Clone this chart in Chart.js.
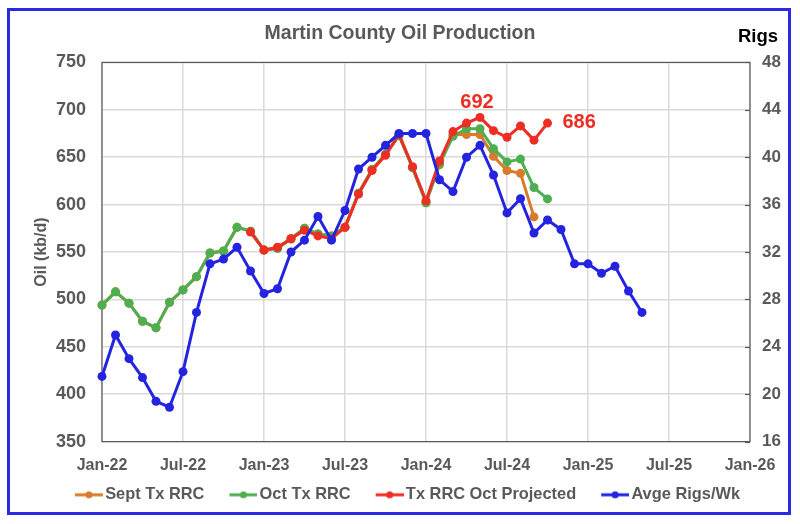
<!DOCTYPE html>
<html><head><meta charset="utf-8">
<script src="https://cdn.jsdelivr.net/npm/chart.js@4/dist/chart.umd.min.js"></script>
<style>
html,body{margin:0;padding:0;background:#fff;}
#wrap{position:relative;width:800px;height:524px;overflow:hidden;}
#frame{position:absolute;left:7px;top:8px;width:778px;height:501px;border:3px solid #2a2ae6;pointer-events:none;}
canvas{position:absolute;left:0;top:0;}
</style></head><body>
<div id="wrap"><canvas id="c" width="800" height="524"></canvas><div id="frame"></div></div>
<script>
// ---- data ----
const months = ['Jan-22','Feb-22','Mar-22','Apr-22','May-22','Jun-22','Jul-22','Aug-22','Sep-22','Oct-22','Nov-22','Dec-22',
  'Jan-23','Feb-23','Mar-23','Apr-23','May-23','Jun-23','Jul-23','Aug-23','Sep-23','Oct-23','Nov-23','Dec-23',
  'Jan-24','Feb-24','Mar-24','Apr-24','May-24','Jun-24','Jul-24','Aug-24','Sep-24','Oct-24','Nov-24','Dec-24',
  'Jan-25','Feb-25','Mar-25','Apr-25','May-25'];
const xTickLabels = ['Jan-22','Jul-22','Jan-23','Jul-23','Jan-24','Jul-24','Jan-25','Jul-25','Jan-26'];
const seriesNames = ['Sept Tx RRC','Oct Tx RRC','Tx RRC Oct Projected','Avge Rigs/Wk'];
const septTxRRC = [494,508,496,477,470,497,510,524,549,551,576,572,
  552,554,564,575,569,567,576,612,637,653,673,639,
  602,642,674,674,674,651,636,633,587];
const octTxRRC = [494,508,496,477,470,497,510,524,549,551,576,572,
  552,554,564,575,569,567,576,612,637,653,673,639,
  602,643,672,680,680,659,645,648,618,606];
const octProjected = [null,null,null,null,null,null,null,null,null,null,null,571,
  552,555,564,573,567,564,576,611,636,652,674,640,
  604,646,677,686,692,678,671,683,668,686];
const avgRigs = [21.5,25.0,23.0,21.4,19.4,18.9,21.9,26.9,31.0,31.4,32.4,30.4,
  28.5,28.9,32.0,33.0,35.0,33.0,35.5,39.0,40.0,41.0,42.0,42.0,
  42.0,38.1,37.1,40.0,41.0,38.5,35.3,36.5,33.6,34.7,33.9,31.0,
  31.0,30.2,30.8,28.7,26.9];
const valueNotes = [{series:2, month:'May-24'},{series:2, month:'Oct-24'}];

// ---- styling ----
const FONT = "'Liberation Sans', Arial, Helvetica, sans-serif";
const GRAY = '#595959';
const COLORS = ['#DA7A2C','#4EAE50','#EE2E24','#2424E0'];

function toXY(arr){ return arr.map((v,i)=>({x:i, y:v})); }

// legend marker: transparent lead-in, then a short line with a dot
const BOXW = 37, IMGW = BOXW + 12, LEAD = 21;
function legendImage(color){
  const c = document.createElement('canvas');
  c.width = IMGW; c.height = 10;
  const g = c.getContext('2d');
  g.strokeStyle = color; g.lineWidth = 3;
  g.beginPath(); g.moveTo(LEAD,5); g.lineTo(IMGW,5); g.stroke();
  g.fillStyle = color; g.beginPath(); g.arc((LEAD+IMGW)/2,5,3.5,0,Math.PI*2); g.fill();
  return c;
}
const legendImgs = COLORS.map(legendImage);

function ds(i, data, axis, order){
  return {label: seriesNames[i], data: toXY(data), yAxisID: axis, order: order,
    borderColor: COLORS[i], backgroundColor: COLORS[i], borderWidth: 3,
    pointRadius: 4.5, pointBackgroundColor: COLORS[i], pointBorderWidth: 0,
    tension: 0, spanGaps: false, clip: false};
}

const decor = {
  id:'decor',
  beforeDatasetsDraw(chart){
    const {ctx, chartArea:a} = chart;
    ctx.save();
    ctx.strokeStyle = GRAY; ctx.lineWidth = 1.2;
    ctx.strokeRect(a.left, a.top, a.right-a.left, a.bottom-a.top);
    const y1 = chart.scales.y1;
    y1.ticks.forEach(t=>{
      const py = Math.round(y1.getPixelForValue(t.value))+0.5;
      ctx.beginPath(); ctx.moveTo(a.right-5, py); ctx.lineTo(a.right, py); ctx.stroke();
    });
    ctx.restore();
  },
  afterDatasetsDraw(chart){
    const {ctx, chartArea:a} = chart;
    ctx.save();
    ctx.fillStyle = '#000';
    ctx.font = "bold 18.5px " + FONT;
    ctx.textAlign = 'right'; ctx.textBaseline = 'middle';
    ctx.fillText('Rigs', a.right + 28, a.top - 25);
    ctx.fillStyle = COLORS[2];
    ctx.font = "bold 20px " + FONT;
    valueNotes.forEach((n, k)=>{
      const idx = months.indexOf(n.month);
      const el = chart.getDatasetMeta(n.series).data[idx];
      const val = chart.data.datasets[n.series].data[idx].y;
      if (k === 0){ ctx.textAlign='center'; ctx.fillText(String(Math.round(val)), el.x-3, el.y-15); }
      else { ctx.textAlign='left'; ctx.fillText(String(Math.round(val)), el.x+15, el.y-1); }
    });
    ctx.restore();
  }
};

new Chart(document.getElementById('c'), {
  type:'line',
  data:{ datasets:[
    ds(0, septTxRRC, 'y', 4),
    ds(1, octTxRRC, 'y', 3),
    ds(2, octProjected, 'y', 2),
    ds(3, avgRigs, 'y1', 1)
  ]},
  plugins:[decor],
  options:{
    responsive:false, animation:false,
    layout:{padding:{left:0,right:0,top:0,bottom:11}},
    plugins:{
      tooltip:{enabled:false},
      title:{display:true, text:'Martin County Oil Production', color:GRAY,
        font:{family:FONT, size:19.5, weight:'bold'}, padding:{top:22, bottom:17}},
      legend:{position:'bottom', labels:{
        color:GRAY, font:{family:FONT, size:16.4, weight:'bold'},
        usePointStyle:true, pointStyleWidth:BOXW, boxHeight:10, padding:10,
        sort:(a,b)=>a.datasetIndex-b.datasetIndex,
        generateLabels:(chart)=>{
          const items = Chart.defaults.plugins.legend.labels.generateLabels(chart);
          items.forEach(it=>{ it.pointStyle = legendImgs[it.datasetIndex]; it.rotation = 0; });
          return items;
        }
      }}
    },
    scales:{
      x:{type:'linear', min:0, max:48,
        ticks:{stepSize:6, autoSkip:false, maxRotation:0, color:GRAY, padding:14,
          font:{family:FONT, size:16, weight:'bold'},
          callback:(v)=> xTickLabels[Math.round(v/6)] },
        grid:{color:'#d9d9d9', lineWidth:1.5, drawTicks:false},
        border:{display:false},
        afterFit:(s)=>{ s.height = 35; }
      },
      y:{position:'left', min:350, max:750,
        ticks:{stepSize:50, color:GRAY, padding:16, font:{family:FONT, size:18, weight:'bold'}},
        grid:{color:'#d9d9d9', lineWidth:1.5, drawTicks:false},
        border:{display:false},
        title:{display:true, text:'Oil (kb/d)', color:GRAY, font:{family:FONT, size:16, weight:'bold'}, padding:{top:32,bottom:0}},
        afterFit:(s)=>{ s.width = 102; }
      },
      y1:{position:'right', min:16, max:48,
        ticks:{stepSize:4, color:GRAY, padding:12, font:{family:FONT, size:17, weight:'bold'}},
        grid:{drawOnChartArea:false, drawTicks:false},
        border:{display:false},
        afterFit:(s)=>{ s.width = 50; }
      }
    }
  }
});
</script>
</body></html>
